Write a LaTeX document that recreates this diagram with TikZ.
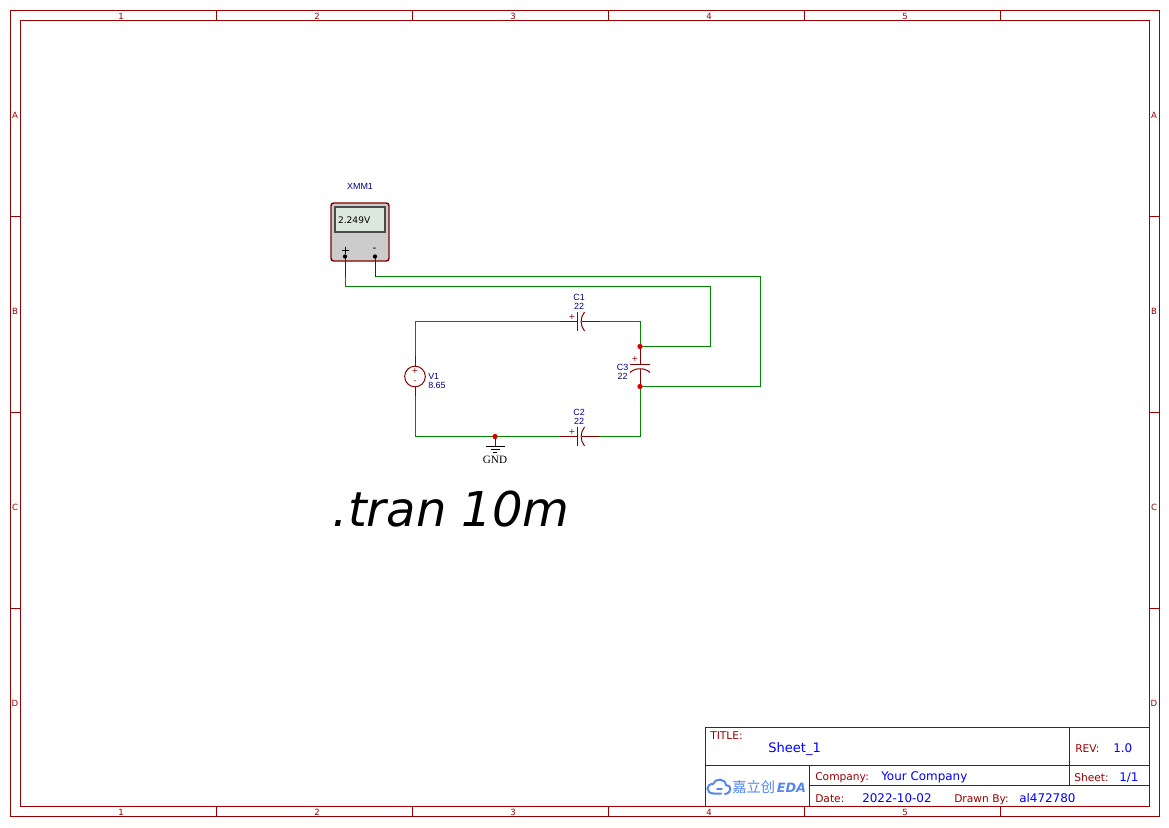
\documentclass[tikz,border=0pt]{standalone}
\usepackage{fontspec}
\setmainfont{DejaVu Sans}
\newfontfamily\arialfont{Liberation Sans}
\newfontfamily\gndfont{Liberation Serif}
\newfontfamily\cjkfont[AutoFakeBold=1.5,AutoFakeSlant=0.2]{Noto Sans CJK SC}
\definecolor{framered}{HTML}{990000}
\definecolor{pinred}{HTML}{880000}
\definecolor{wiregreen}{HTML}{008800}
\definecolor{partblue}{HTML}{000080}
\definecolor{logoblue}{HTML}{5588EE}
\definecolor{lcdgreen}{HTML}{DDE8DD}
\tikzset{
    framecol/.style={draw=framered, line width=0.75pt},
    framelabel/.style={text=framered, font=\fontsize{6.4}{7}\selectfont, inner sep=0pt},
    blocklabel/.style={text=framered, font=\fontsize{8}{9}\selectfont, inner sep=0pt, anchor=base west},
    blockvalue/.style={text=blue, font=\fontsize{8.95}{10}\selectfont, inner sep=0pt, anchor=base west},
    wire/.style={draw=wiregreen, line width=0.75pt},
    pin/.style={draw=pinred, line width=0.75pt},
    partlabel/.style={text=partblue, font=\arialfont\fontsize{6.7}{6.6}\selectfont, inner sep=0pt, align=center},
    junction/.style={circle, fill=red!85!black, inner sep=0pt, minimum size=4pt}
}
\begin{document}
\begin{tikzpicture}[x=0.75pt, y=-0.75pt]
\useasboundingbox (0,0) rectangle (1169,827);
\fill[white] (0,0) rectangle (1169,827);

% sheet frame
\draw[framecol] (10,10.5) rectangle (1159,816.5);
\draw[framecol] (20,20.5) rectangle (1149,806.5);
\foreach \x in {216,412,608,804,1000}
{
    \draw[framecol] (\x,10.5)--(\x,20.5);
    \draw[framecol] (\x,806.5)--(\x,816.5);
}
\foreach \y in {216.5,412.5,608.5}
{
    \draw[framecol] (10,\y)--(20,\y);
    \draw[framecol] (1149,\y)--(1159,\y);
}
\foreach \x/\t in {121/1,317/2,513/3,709/4,905/5}
{
    \node[framelabel] (top\t) at (\x,16) {\t};
    \node[framelabel] (bot\t) at (\x,812) {\t};
}
\foreach \y/\t in {115/A,311/B,507/C,703/D}
{
    \node[framelabel] (left\t) at (15,\y) {\t};
    \node[framelabel] (right\t) at (1154,\y) {\t};
}

% title block
\draw[framecol] (705,727.5) rectangle (1149,806.5);
\draw[framecol] (705,765.5)--(1149,765.5);
\draw[framecol] (809,785.5)--(1149,785.5);
\draw[framecol] (809,765.5)--(809,806.5);
\draw[framecol] (1069,727.5)--(1069,785.5);
\node[blocklabel] (titlelab) at (710,739) {TITLE:};
\node[blockvalue, font=\fontsize{9.8}{11}\selectfont] (titleval) at (768,752) {Sheet\_1};
\node[blocklabel] (revlab) at (1075,752.5) {REV:};
\node[blockvalue] (revval) at (1113,752.5) {1.0};
\node[blocklabel] (complab) at (815,780) {Company:};
\node[blockvalue] (compval) at (881,780) {Your Company};
\node[blocklabel] (sheetlab) at (1074,781) {Sheet:};
\node[blockvalue] (sheetval) at (1119,781) {1/1};
\node[blocklabel] (datelab) at (815,802) {Date:};
\node[blockvalue] (dateval) at (862,802) {2022-10-02};
\node[blocklabel] (drawnlab) at (954,802) {Drawn By:};
\node[blockvalue] (drawnval) at (1019,802) {al472780};

% logo
\draw[logoblue, line width=1.5pt, line cap=round]
    (721,793.5)--(714,793.5) .. controls (705,793.5) and (706,783.5) .. (713,784)
    .. controls (715,778) and (725,778) .. (726,785)
    .. controls (732,785) and (732,793) .. (725,794);
\draw[logoblue, line width=1.3pt, line cap=round] (717,789)--(722,789);
\node[inner sep=0pt, anchor=base west, text=logoblue, font=\cjkfont\fontsize{10.7}{11}\selectfont] (logocn) at (732,792) {嘉立创};
\node[inner sep=0pt, anchor=base west, text=logoblue, font=\bfseries\itshape\fontsize{9.6}{11}\selectfont] (logoen) at (776.5,792) {EDA};

% multimeter
\draw[draw=pinred, fill=black!20, line width=1.1pt, rounded corners=2pt] (331,203) rectangle (389,261);
\node[draw=black!70, fill=lcdgreen, line width=0.9pt, minimum width=37.5pt, minimum height=18.75pt, inner sep=0pt] (display) at (360,219.5) {};
\node[inner sep=0pt, anchor=west, font=\fontsize{6.8}{8}\selectfont] (reading) at (337.8,220) {2.249V};
\node[partlabel] (xmm) at (360,186.5) {XMM1};
\node[inner sep=0pt, font=\fontsize{8.5}{9}\selectfont] (plus) at (345.5,250.5) {+};
\node[inner sep=0pt, font=\fontsize{8}{8}\selectfont] (minus) at (374.5,250) {-};
\coordinate (mp) at (345,256.5);
\coordinate (mpe) at (345,276.5);
\coordinate (mn) at (375,256.5);
\coordinate (mne) at (375,276.5);
\coordinate (topleft) at (415,321.5);
\coordinate (topright) at (640,321.5);
\coordinate (botleft) at (415,436.5);
\coordinate (botright) at (640,436.5);
\coordinate (vtop) at (415,356);
\coordinate (vbot) at (415,396);
\coordinate (cia) at (560,321.5);
\coordinate (cib) at (600,321.5);
\coordinate (cja) at (560,436.5);
\coordinate (cjb) at (600,436.5);
\coordinate (ja) at (640,346.5);
\coordinate (jb) at (640,386.5);
\coordinate (jg) at (495,436.5);

% wires
\draw[wire] (mpe)--(345,286.5)-|(710,346.5)--(ja);
\draw[wire] (mne)--(760,276.5)--(760,386.5)--(jb);
\draw[wire] (cia)--(topleft)--(vtop);
\draw[wire] (vbot)--(botleft)--(cja);
\draw[wire] (cib)--(topright)--(ja);
\draw[wire] (jb)--(botright)--(cjb);
\draw[pin] (mp)--(mpe);
\draw[pin] (mn)--(mne);
\fill[black] (mp) circle (1.6pt);
\fill[black] (mn) circle (1.6pt);

% source
\node[circle, draw=pinred, line width=0.75pt, minimum size=15.5pt, inner sep=0pt] (vone) at (415,376.5) {};
\draw[pin] (vtop)--(vone);
\draw[pin] (vbot)--(vone);
\node[inner sep=0pt, text=pinred, font=\fontsize{6}{6}\selectfont] (vplus) at (415,370.5) {+};
\node[inner sep=0pt, text=pinred, font=\fontsize{6}{6}\selectfont] (vminus) at (415,382) {-};
\node[partlabel, anchor=north west, align=left] (vlab) at (428,373.5) {V1\\8.65};

% horizontal capacitors
\foreach \y/\n in {321.5/1,436.5/2}
{
    \draw[pin] (560,\y)--(577,\y);
    \draw[pin] (577,\y-9.5)--(577,\y+9.5);
    \draw[pin] (584.5,\y-9.5) .. controls (580,\y-4) and (580,\y+4) .. (584.5,\y+9.5);
    \draw[pin] (581.5,\y)--(600,\y);
    \node[inner sep=0pt, text=pinred, font=\fontsize{6}{6}\selectfont] (cplus\n) at (572,\y-4.5) {+};
    \node[partlabel] (clab\n) at (579,\y-20) {C\n\\22};
}

% vertical capacitor
\draw[pin] (ja)--(640,364);
\draw[pin] (630,364)--(650,364);
\draw[pin] (630,372.5) .. controls (635,367.5) and (645,367.5) .. (650,372.5);
\draw[pin] (640,369)--(jb);
\node[inner sep=0pt, text=pinred, font=\fontsize{6}{6}\selectfont] (cplus3) at (635,358.5) {+};
\node[partlabel] (clab3) at (622.5,372) {C3\\22};

% ground
\draw[pin] (jg)--(495,446.5);
\draw[draw=black, line width=0.75pt] (486,446.5)--(504.5,446.5);
\draw[draw=black, line width=0.75pt] (490.5,449.5)--(500,449.5);
\draw[draw=black, line width=0.75pt] (493,452)--(497,452);
\node[inner sep=0pt, font=\gndfont\fontsize{8.4}{9}\selectfont] (gnd) at (495,459.5) {GND};

% junction dots
\node[junction] (dota) at (ja) {};
\node[junction] (dotb) at (jb) {};
\node[junction] (dotg) at (jg) {};

% directive
\node[inner sep=0pt, anchor=base west, font=\itshape\fontsize{36}{40}\selectfont] (tran) at (332.5,526) {.tran 10m};
\end{tikzpicture}
\end{document}
